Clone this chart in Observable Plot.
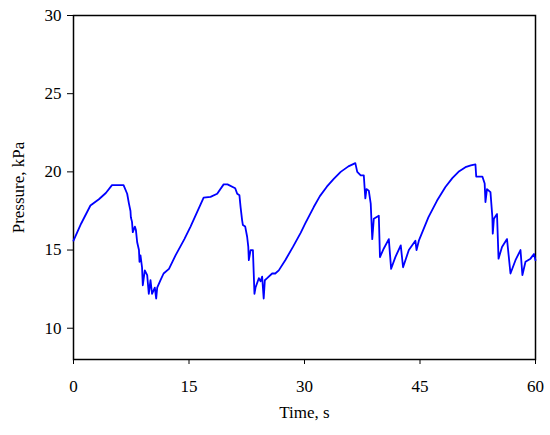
<!DOCTYPE html>
<html>
<head>
<meta charset="utf-8">
<script src="https://cdn.jsdelivr.net/npm/d3@7"></script>
<script src="https://cdn.jsdelivr.net/npm/@observablehq/plot@0.6"></script>
<style>
  html, body { margin: 0; padding: 0; background: #fff; }
  #chart svg { display: block; }
  #chart svg text { font-family: 'Liberation Serif', 'Times New Roman', serif !important; }
</style>
</head>
<body>
<div id="chart"></div>
<script>
const time = [0, 1.0, 2.2, 3.3, 4.2, 5.0, 6.5, 6.97, 7.2, 7.4, 7.45, 7.6, 7.7, 7.97, 8.1, 8.27,
  8.5, 8.57, 8.7, 8.9, 9.0, 9.26, 9.57, 9.78, 10.0, 10.2, 10.56, 10.74, 10.87, 11.3, 11.7,
  12.4, 13.25, 14.4, 15.2, 16.9, 17.8, 18.66, 19.5, 20.0, 21.0, 21.26, 21.55, 21.7, 21.9,
  22.0, 22.3, 22.55, 22.7, 22.77, 23.0, 23.3, 23.5, 23.64, 24.07, 24.3, 24.5, 24.7, 24.85,
  25.15, 25.8, 26.2, 26.66, 27.5, 28.5, 29.5, 30.1, 31.2, 32.0, 32.9, 33.8, 34.7, 35.7,
  36.6, 36.85, 37.3, 37.7, 37.9, 38.05, 38.35, 38.6, 38.8, 39.0, 39.65, 39.8, 40.3, 40.95,
  41.25, 41.8, 42.5, 42.8, 43.55, 44.4, 44.55, 44.85, 46.1, 47.2, 48.3, 49.2, 50.0, 50.9,
  51.6, 52.2, 52.3, 53.1, 53.4, 53.5, 53.7, 54.15, 54.4, 54.45, 54.6, 55.0, 55.2, 55.65,
  56.3, 56.75, 57.4, 58.05, 58.3, 58.7, 59.35, 59.8, 60];
const pressure = [15.6, 16.7, 17.85, 18.25, 18.65, 19.15, 19.15, 18.6, 17.97, 17.5, 17.1, 16.8, 16.15, 16.5, 16.3, 15.5,
  15.0, 14.25, 14.66, 13.9, 12.75, 13.7, 13.4, 12.2, 13.07, 12.2, 12.6, 11.9, 12.6, 13.07, 13.5,
  13.8, 14.66, 15.7, 16.5, 18.35, 18.4, 18.6, 19.2, 19.2, 18.95, 18.6, 18.5, 17.75, 16.9,
  16.6, 16.5, 15.85, 15.2, 14.35, 15.0, 15.0, 12.2, 12.6, 13.2, 13.0, 13.3, 11.9, 13.07,
  13.2, 13.5, 13.5, 13.7, 14.35, 15.2, 16.1, 16.7, 17.75, 18.45, 19.05, 19.55, 20.0, 20.35,
  20.56, 20.0, 19.78, 19.78, 18.3, 18.9, 18.8, 17.97, 15.7, 17.0, 17.2, 14.55, 15.1, 15.7,
  13.8, 14.55, 15.3, 13.9, 15.0, 15.6, 15.0, 15.6, 17.1, 18.15, 19.03, 19.6, 20.0, 20.3,
  20.42, 20.48, 19.7, 19.7, 19.25, 18.07, 18.9, 18.7, 17.1, 16.05, 17.0, 17.3, 14.45, 15.2,
  15.7, 13.5, 14.35, 15.0, 13.4, 14.25, 14.45, 14.75, 14.35];
const xTicks = [0, 15, 30, 45, 60];
const yTicks = [10, 15, 20, 25, 30];

const data = time.map((t, i) => ({t, p: pressure[i]}));
const serif = "'Liberation Serif', 'Times New Roman', serif";

const chart = Plot.plot({
  width: 550,
  height: 435,
  marginLeft: 73,
  marginRight: 15,
  marginTop: 15,
  marginBottom: 76,
  style: {fontFamily: serif, fontSize: "17px", color: "#000", background: "#fff"},
  x: {domain: [0, 60]},
  y: {domain: [8, 30]},
  marks: [
    Plot.frame({stroke: "#000", strokeWidth: 1.5}),
    Plot.axisX({ticks: xTicks, tickSize: 5, tickPadding: 15, tickFormat: d => d, fontSize: 17, fontFamily: serif,
      fontVariant: "normal",
      label: "Time, s", labelAnchor: "center", labelArrow: "none", labelOffset: 58}),
    Plot.axisY({ticks: yTicks, tickSize: 6, tickPadding: 6, tickFormat: d => d, fontSize: 17, fontFamily: serif,
      fontVariant: "normal",
      label: "Pressure, kPa", labelAnchor: "center", labelArrow: "none", labelOffset: 62}),
    Plot.line(data, {x: "t", y: "p", stroke: "#0000ff", strokeWidth: 1.8})
  ]
});
document.getElementById("chart").appendChild(chart);
</script>
</body>
</html>
